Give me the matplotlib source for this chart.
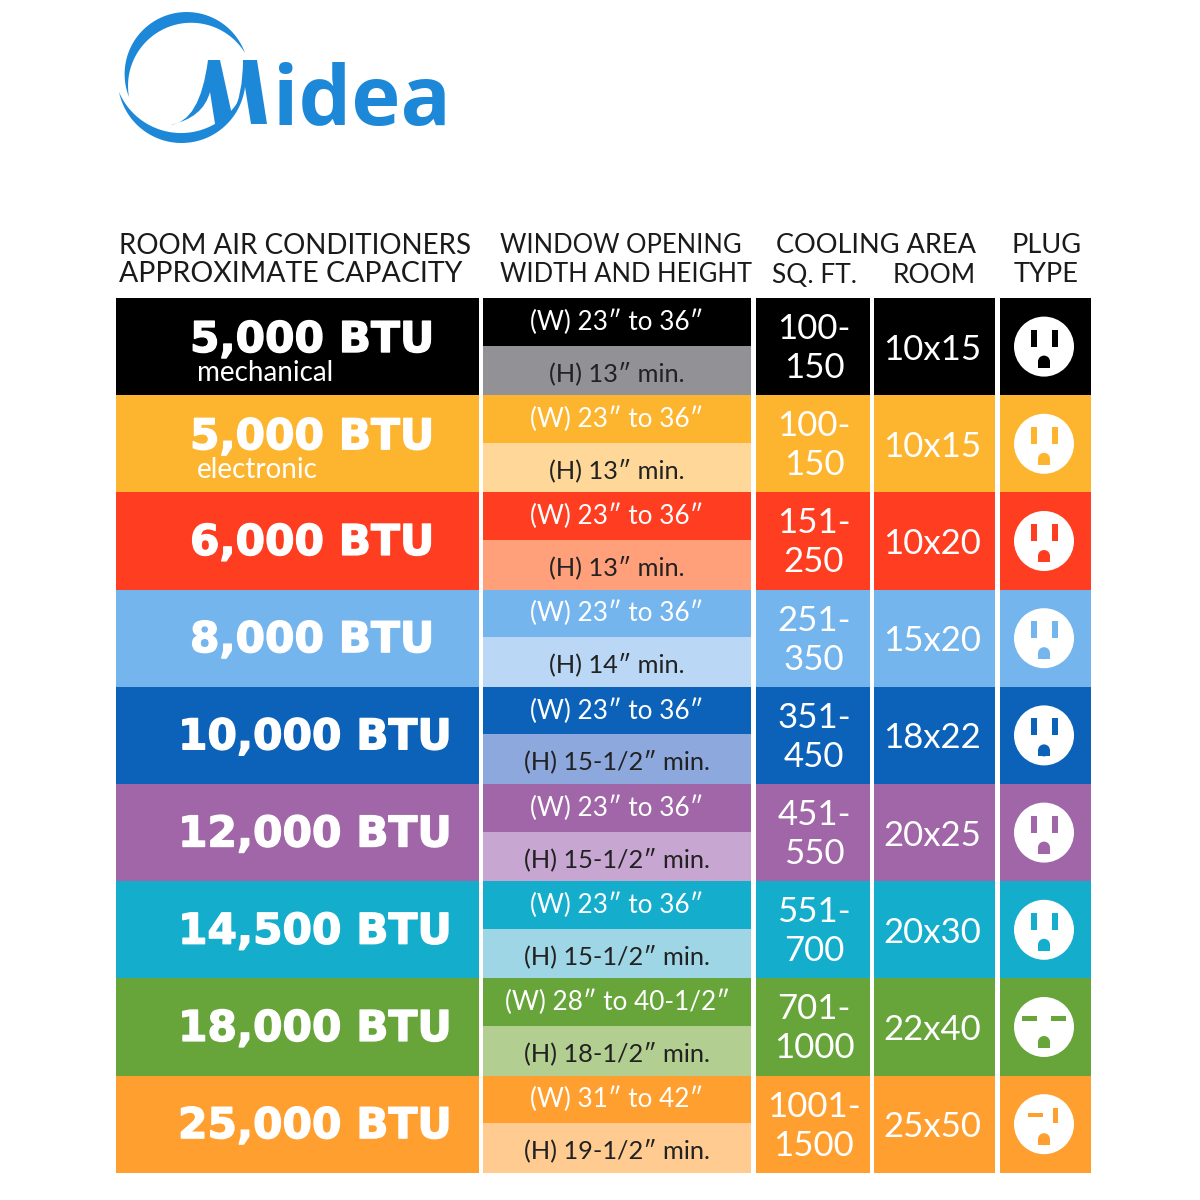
import numpy as np
import matplotlib as mpl
mpl.use('Agg')
import matplotlib.pyplot as plt
import matplotlib.patheffects as pe
from matplotlib.patches import Rectangle, Circle, PathPatch, Polygon
from matplotlib.path import Path

btu_labels = ['5,000 BTU', '5,000 BTU', '6,000 BTU', '8,000 BTU', '10,000 BTU',
              '12,000 BTU', '14,500 BTU', '18,000 BTU', '25,000 BTU']
btu_sub = ['mechanical', 'electronic', '', '', '', '', '', '', '']
width_labels = ['(W) 23″ to 36″'] * 7 + ['(W) 28″ to 40-1/2″', '(W) 31″ to 42″']
height_labels = ['(H) 13″ min.', '(H) 13″ min.', '(H) 13″ min.', '(H) 14″ min.',
                 '(H) 15-1/2″ min.', '(H) 15-1/2″ min.', '(H) 15-1/2″ min.',
                 '(H) 18-1/2″ min.', '(H) 19-1/2″ min.']
area_low = ['100-', '100-', '151-', '251-', '351-', '451-', '551-', '701-', '1001-']
area_high = ['150', '150', '250', '350', '450', '550', '700', '1000', '1500']
room_labels = ['10x15', '10x15', '10x20', '15x20', '18x22', '20x25', '20x30', '22x40', '25x50']
plug_types = ['v', 'v', 'v', 'v', 'v', 'v', 'v', 'h', 'm']
row_colors = ['#000000', '#FDB52F', '#FF3D21', '#74B5EE', '#0B62B8',
              '#A066A8', '#14ADCB', '#67A53B', '#FF9F2F']
light_colors = ['#929296', '#FFD899', '#FFA07A', '#BAD8F5', '#8DA8DC',
                '#C8A6D2', '#9FD6E5', '#B2CE90', '#FFCB90']

blue = '#1E88D8'
top = 298
row_h = 97.2
split = 47.5
columns = [(116, 479), (483, 751), (756, 870), (874, 995), (1000, 1091)]

plt.rcParams['font.family'] = ['Lato', 'DejaVu Sans']

fig = plt.figure(figsize=(12, 12), dpi=100)
ax = fig.add_axes([0, 0, 1, 1])
ax.set_xlim(0, 1200)
ax.set_ylim(1200, 0)
ax.axis('off')


def box(x0, x1, y0, y1, color):
    ax.add_patch(Rectangle((x0, y0), x1 - x0, y1 - y0, fc=color, ec='none'))


def arc(p0, via, p1, n=60):
    # circle through three points, walked from p0 to p1 past via
    (ax_, ay), (bx, by), (cx, cy) = p0, via, p1
    d = 2 * (ax_ * (by - cy) + bx * (cy - ay) + cx * (ay - by))
    ux = ((ax_**2 + ay**2) * (by - cy) + (bx**2 + by**2) * (cy - ay) + (cx**2 + cy**2) * (ay - by)) / d
    uy = ((ax_**2 + ay**2) * (cx - bx) + (bx**2 + by**2) * (ax_ - cx) + (cx**2 + cy**2) * (bx - ax_)) / d
    r = np.hypot(ax_ - ux, ay - uy)
    a0, a1, a2 = [np.arctan2(p[1] - uy, p[0] - ux) for p in (p0, via, p1)]
    a1 = a0 + (a1 - a0) % (2 * np.pi)
    a2 = a0 + (a2 - a0) % (2 * np.pi)
    if a2 < a1:
        a2 -= 2 * np.pi
    t = np.linspace(a0, a2, n)
    return np.column_stack([ux + r * np.cos(t), uy + r * np.sin(t)])


def crescent(tip0, outer, inner, tip1):
    pts = np.vstack([arc(tip0, outer, tip1), arc(tip1, inner, tip0)])
    ax.add_patch(Polygon(pts, fc=blue, ec='none'))


# logo
crescent((129, 97), (150, 24), (150, 38), (245, 53))
crescent((119, 92), (182, 143), (183, 133), (245, 87))
M, L, Q = Path.MOVETO, Path.LINETO, Path.CURVE3
ax.add_patch(PathPatch(Path(
    [(170, 125), (200, 122), (208, 60), (220, 60), (232, 115), (243, 95), (243, 60), (257, 60),
     (267, 124), (251, 124), (245, 87), (238, 118), (217, 124), (215, 124), (210, 92), (203, 118), (170, 125)],
    [M, Q, Q, L, L, Q, Q, L, L, L, L, Q, Q, L, L, Q, Q]), fc=blue, ec='none'))
ax.text(273, 124.5, 'idea', color=blue, fontsize=60, fontweight='bold', ha='left', va='baseline',
        fontfamily=['Open Sans', 'DejaVu Sans'])

# headers
head = dict(color='#1a1a1a', va='baseline')
ax.text(119, 254, 'ROOM AIR CONDITIONERS', ha='left', fontsize=20, **head)
ax.text(119, 282, 'APPROXIMATE CAPACITY', ha='left', fontsize=20.5, **head)
ax.text(500, 253, 'WINDOW OPENING', ha='left', fontsize=18.4, **head)
ax.text(500, 282, 'WIDTH AND HEIGHT', ha='left', fontsize=18.4, **head)
ax.text(876, 253, 'COOLING AREA', ha='center', fontsize=19.5, **head)
ax.text(814, 283, 'SQ. FT.', ha='center', fontsize=19, **head)
ax.text(934, 283, 'ROOM', ha='center', fontsize=19, **head)
ax.text(1046, 253, 'PLUG', ha='center', fontsize=19.5, **head)
ax.text(1046, 282, 'TYPE', ha='center', fontsize=19.5, **head)

heavy = [pe.withStroke(linewidth=1.0, foreground='white')]

# rows
for i, color in enumerate(row_colors):
    y0 = top + i * row_h
    y1 = y0 + row_h
    mid = y0 + row_h / 2
    for x0, x1 in columns:
        box(x0, x1, y0, y1, color)
    x0, x1 = columns[1]
    box(x0, x1, y0 + split, y1, light_colors[i])

    # capacity
    by = y0 + 54 if btu_sub[i] else y0 + 62.5
    bx = 190 if len(btu_labels[i]) == 9 else 178
    ax.text(bx, by, btu_labels[i], color='white', fontsize=30.5, ha='left', va='baseline',
            fontweight='bold', fontfamily=['DejaVu Sans'], path_effects=heavy)
    if btu_sub[i]:
        ax.text(197, y0 + 83, btu_sub[i], color='white', fontsize=20, ha='left', va='baseline')

    # window opening
    ax.text(617, y0 + 24, width_labels[i], color='white', fontsize=18.8, ha='center', va='center')
    ax.text(617, y0 + 75, height_labels[i], color='#222222', fontsize=18.3, ha='center', va='center')

    # cooling area
    ax.text(814, y0 + 31, area_low[i], color='white', fontsize=25, ha='center', va='center')
    ax.text(814, y0 + 70, area_high[i], color='white', fontsize=25, ha='center', va='center')
    ax.text(932, mid + 3, room_labels[i], color='white', fontsize=25, ha='center', va='center')

    # plug
    px, py = 1044, mid
    ax.add_patch(Circle((px, py), 30, fc='white', ec='none'))
    if plug_types[i] == 'v':
        box(px - 13, px - 7, py - 17, py, color)
        box(px + 8, px + 14, py - 17, py, color)
    elif plug_types[i] == 'h':
        box(px - 22, px - 7, py - 11, py - 6, color)
        box(px + 7, px + 22, py - 11, py - 6, color)
    else:
        box(px - 16, px - 1, py - 11, py - 7, color)
        box(px + 9, px + 14, py - 16, py - 1, color)
    # ground slot
    box(px - 6, px + 6, py + 15, py + 21, color)
    ax.add_patch(Circle((px, py + 15), 6, fc=color, ec='none'))

fig.savefig('out.png', dpi=100)
